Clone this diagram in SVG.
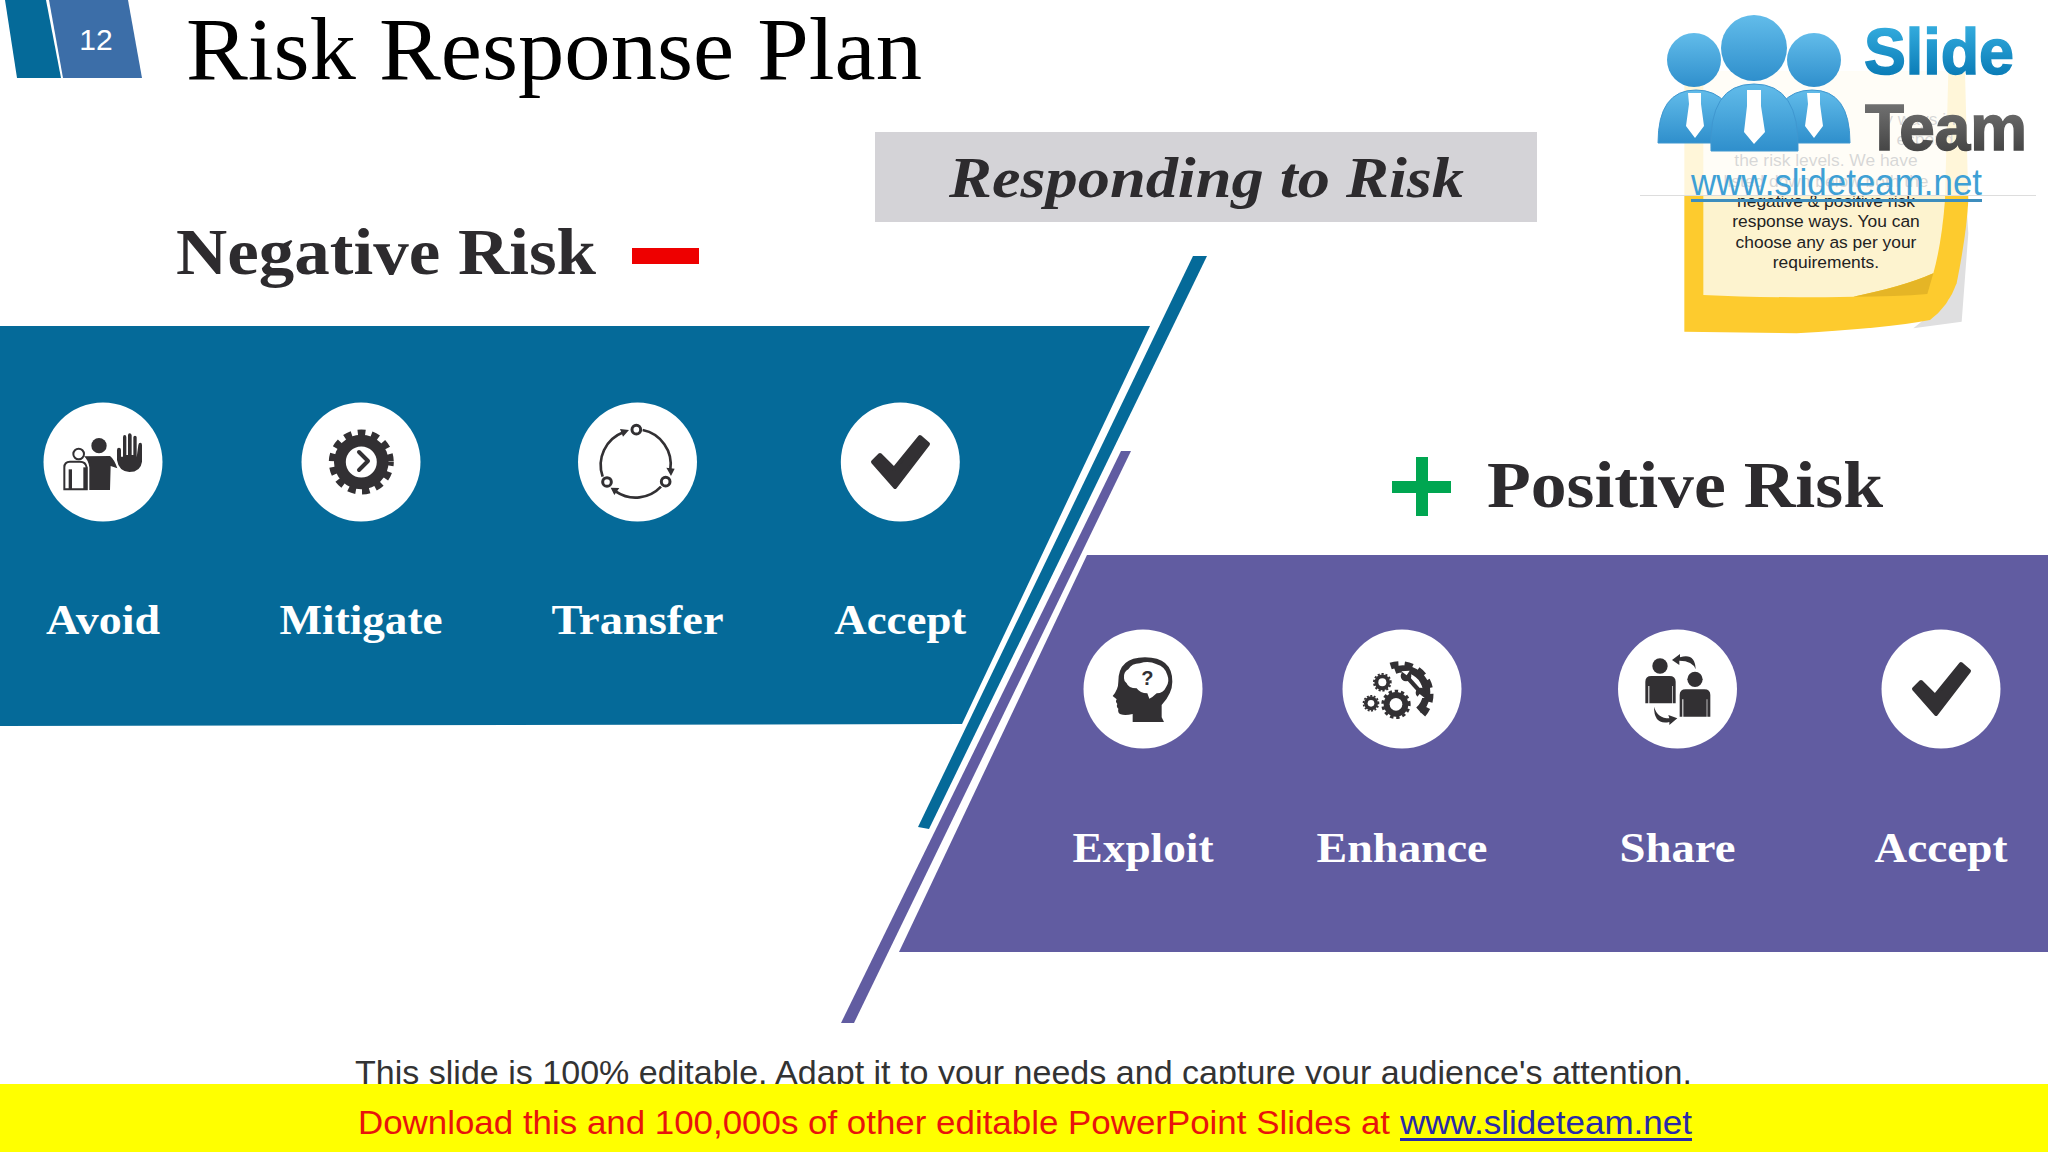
<svg xmlns="http://www.w3.org/2000/svg" width="2048" height="1152" viewBox="0 0 2048 1152">
<style>
.h{font-family:"Liberation Serif",Georgia,serif;font-weight:700;fill:#2d2b2e}
.l{font-family:"Liberation Serif",serif;font-weight:700;fill:#fff;font-size:43px;text-anchor:middle}
.s{font-family:"Liberation Sans",Arial,sans-serif;font-size:17.4px;fill:#222;text-anchor:middle}
.c{fill:#fff}
.i{fill:#323033}
.o{fill:none;stroke:#323033}
</style>
<defs>
<linearGradient id="gs" x1="0" y1="0" x2="0" y2="1"><stop offset="0" stop-color="#3cb6e6"/><stop offset="1" stop-color="#0070ad"/></linearGradient>
<linearGradient id="gt" x1="0" y1="0" x2="0" y2="1"><stop offset="0" stop-color="#7c7c7c"/><stop offset="1" stop-color="#3a3a3a"/></linearGradient>
<linearGradient id="gp" x1="0" y1="0" x2="0" y2="1"><stop offset="0" stop-color="#62bcea"/><stop offset="1" stop-color="#2f8fcc"/></linearGradient>
<path id="check" d="M-27 0-20-7-6 7 20-25 28-18-5 25Z" fill="#323033" stroke="#323033" stroke-width="4" stroke-linejoin="round"/>
<g id="gear"><circle r=".84" fill="#323033"/><circle r=".9" fill="none" stroke="#323033" stroke-width=".2" pathLength="12" stroke-dasharray=".55 .45" stroke-dashoffset=".275"/></g>
</defs>
<rect width="2048" height="1152" fill="#fff"/>

<g id="header">
<path d="M5 0H46L61 78H17Z" fill="#056a99"/>
<path d="M49 0H128L142 78H63Z" fill="#3c6ea8"/>
<text x="96" y="50" font-family="Liberation Sans,sans-serif" font-size="30" fill="#fff" text-anchor="middle">12</text>
<text x="186" y="79" font-family="Liberation Serif,serif" font-size="89" fill="#000" textLength="736" lengthAdjust="spacingAndGlyphs">Risk Response Plan</text>
</g>

<g id="responding">
<rect x="875" y="132" width="662" height="90" fill="#d4d3d7"/>
<text x="949" y="197" class="h" font-style="italic" font-size="56" textLength="515" lengthAdjust="spacingAndGlyphs">Responding to Risk</text>
</g>

<g id="negative-heading">
<text x="176" y="274" class="h" font-size="65" textLength="420" lengthAdjust="spacingAndGlyphs">Negative Risk</text>
<rect x="632" y="248" width="67" height="16" fill="#ee0000"/>
</g>
<g id="positive-heading">
<path d="M1416 457H1428V481H1451V493H1428V516H1416V493H1392V481H1416Z" fill="#00a651"/>
<text x="1487" y="507" class="h" font-size="65" textLength="396" lengthAdjust="spacingAndGlyphs">Positive Risk</text>
</g>

<g id="bands">
<path d="M0 326H1150L962 724 0 726Z" fill="#056a99"/>
<path d="M1087 555H2048V952H899Z" fill="#615ca1"/>
</g>
<g id="connectors">
<path d="M1193 256H1207L929 829 918 827Z" fill="#056a99"/>
<path d="M1121 451H1131L854 1023H841Z" fill="#615ca1"/>
</g>

<g id="avoid">
<circle class="c" cx="103" cy="462" r="59.5"/>
<g transform="translate(20 380) scale(.33333)">
<circle class="i" cx="237" cy="197" r="23"/>
<path class="i" d="M192 229 270 228Q283 238 292 265L272 258 270 330H208V262Q205 240 192 229Z"/>
<path d="M133 328V262Q133 245 150 245H180Q197 245 200 262V328Z" fill="#fff" stroke="#323033" stroke-width="6"/>
<rect class="i" x="146" y="268" width="10" height="60"/>
<rect class="i" x="190" y="262" width="12" height="68"/>
<circle cx="176" cy="222" r="16" fill="#fff" stroke="#323033" stroke-width="6"/>
<path class="i" d="M291 210Q291 203 297 203T303 210V230H309V172Q309 165 314 165T319 172V225H324V166Q324 160 329 160T335 166V225H340V172Q340 167 345 167T350 172V232L355 195Q356 188 361 188T366 195V245Q362 276 328 276 296 274 291 240Z"/>
</g>
<text class="l" x="103" y="634" textLength="114" lengthAdjust="spacingAndGlyphs">Avoid</text>
</g>

<g id="mitigate">
<circle class="c" cx="361" cy="462" r="59.5"/>
<use href="#gear" transform="translate(361.3 462) scale(32.5)"/>
<circle class="c" cx="361.3" cy="462" r="15.5"/>
<path d="M359 452 368 461 359 470" fill="none" stroke="#323033" stroke-width="4" stroke-linecap="round" stroke-linejoin="round"/>
<text class="l" x="361" y="634" textLength="163" lengthAdjust="spacingAndGlyphs">Mitigate</text>
</g>

<g id="transfer">
<circle class="c" cx="637.5" cy="462" r="59.5"/>
<g transform="translate(560 380) scale(.33333)">
<path class="o" stroke-width="8" d="M248 150A105 105 0 0 1 331 268M303 320A105 105 0 0 1 168 335M128 290A105 105 0 0 1 190 157"/>
<path class="i" d="M207 150 180 147 189 170ZM333 288 319 263 344 266ZM152 323 178 324 163 345Z"/>
<g fill="#fff" stroke="#323033" stroke-width="9"><circle cx="229" cy="149" r="13"/><circle cx="317" cy="305" r="13"/><circle cx="141" cy="306" r="13"/></g>
</g>
<text class="l" x="637.5" y="634" textLength="172" lengthAdjust="spacingAndGlyphs">Transfer</text>
</g>

<g id="accept-neg">
<circle class="c" cx="900.3" cy="462" r="59.5"/>
<use href="#check" x="900" y="462"/>
<text class="l" x="900.3" y="634" textLength="132" lengthAdjust="spacingAndGlyphs">Accept</text>
</g>

<g id="exploit">
<circle class="c" cx="1143" cy="689" r="59.5"/>
<g transform="translate(1060 610) scale(.33333)">
<path class="i" d="M218 336V312Q195 318 182 313 172 308 175 296 168 290 172 282 165 276 170 268L158 258Q175 238 175 215 175 142 255 142 337 142 337 215 337 250 305 285V322L312 336Z"/>
<path fill="#fff" d="M192 205Q190 185 205 178 215 160 240 160 265 150 290 163 315 170 322 195 330 215 318 232 310 250 290 250 278 262 268 266L262 250Q240 250 230 235 205 235 200 220 192 215 192 205Z"/>
<text x="262" y="226" font-family="Liberation Sans,sans-serif" font-weight="700" font-size="60" fill="#323033" text-anchor="middle">?</text>
</g>
<text class="l" x="1143" y="862" textLength="141" lengthAdjust="spacingAndGlyphs">Exploit</text>
</g>

<g id="enhance">
<circle class="c" cx="1402" cy="689" r="59.5"/>
<g transform="translate(1060 610) scale(.33333)">
<path class="o" stroke-width="22" d="M1005 181A71 71 0 0 1 1076 301"/>
<path class="o" stroke-width="20" stroke-dasharray="24 18" d="M992 168A90 90 0 0 1 1081 320"/>
<path class="o" stroke-width="13" d="M1040 200 1085 250"/>
<circle class="i" cx="1038" cy="198" r="16"/><circle class="i" cx="1082" cy="248" r="15"/>
<path fill="#fff" d="M1024 184 1040 196 1049 182ZM1094 264 1079 252 1069 264Z"/>
<use href="#gear" transform="translate(967 217) scale(28)"/><circle class="c" cx="967" cy="217" r="12"/>
<use href="#gear" transform="translate(933 280) scale(25)"/><circle class="c" cx="933" cy="280" r="10"/>
<use href="#gear" transform="translate(1008 283) scale(44)"/><circle class="c" cx="1008" cy="283" r="19"/>
</g>
<text class="l" x="1402" y="862" textLength="171" lengthAdjust="spacingAndGlyphs">Enhance</text>
</g>

<g id="share">
<circle class="c" cx="1677.5" cy="689" r="59.5"/>
<g transform="translate(1580 610) scale(.33333)">
<circle class="i" cx="240" cy="168" r="23"/>
<circle class="i" cx="345" cy="208" r="23"/>
<path class="i" d="M196 280V215Q196 198 214 198H268Q287 198 287 215V280H278V228H276V280H208V228H205V280Z"/>
<path class="i" d="M299 320V255Q299 238 317 238H373Q391 238 391 255V320H382V268H380V320H310V268H307V320Z"/>
<path class="i" d="M347 178Q338 152 298 152L298 165 276 150 300 132V142Q345 128 347 178ZM222 290Q232 325 268 325L265 315 292 325 268 345V336Q222 346 222 290Z"/>
</g>
<text class="l" x="1677.5" y="862" textLength="116" lengthAdjust="spacingAndGlyphs">Share</text>
</g>

<g id="accept-pos">
<circle class="c" cx="1941" cy="689" r="59.5"/>
<use href="#check" x="1941" y="689"/>
<text class="l" x="1941" y="862" textLength="133" lengthAdjust="spacingAndGlyphs">Accept</text>
</g>

<g id="sticky">
<g transform="translate(1620 0) scale(.33333)">
<path d="M1040 620 1045 700 1025 965 880 985 985 900Z" fill="#dfdfe0"/>
<path d="M193 215H1035L1045 600Q1040 700 1010 850 985 920 930 960 800 985 530 1000L193 995Z" fill="#fdcb2e"/>
<path d="M250 215H985L975 600Q965 730 940 820 850 860 700 890 450 895 250 885Z" fill="#fdf3cf"/>
<path d="M940 820 922 882Q830 890 700 890 850 860 940 820Z" fill="#e5b526"/>
</g>
<g class="s">
<text x="1920" y="125">y ways in</text>
<text x="1925" y="145">espond</text>
<text x="1826" y="166">the risk levels. We have</text>
<text x="1826" y="187">listed down below both the</text>
<text x="1826" y="207">negative &amp; positive risk</text>
<text x="1826" y="227">response ways. You can</text>
<text x="1826" y="248">choose any as per your</text>
<text x="1826" y="268">requirements.</text>
</g>
</g>

<g id="logo">
<rect x="1640" y="0" width="396" height="195" fill="#fff" fill-opacity=".82"/>
<rect x="1640" y="195" width="396" height="1" fill="#ddd"/>
<g fill="url(#gp)">
<circle cx="1694" cy="60" r="27"/><circle cx="1814" cy="60" r="27"/><circle cx="1754" cy="48" r="33"/>
<path d="M1658 143Q1658 90 1696 90 1734 90 1740 143Z" stroke="#3f97d0"/>
<path d="M1768 143Q1774 90 1812 90 1850 90 1850 143Z" stroke="#3f97d0"/>
<path d="M1711 151Q1708 84 1754 84 1800 84 1798 151Z" stroke="#3f97d0"/>
</g>
<g fill="#fff">
<path d="M1688 93H1701V104L1704 126 1695 138 1686 126 1689 104Z"/>
<path d="M1747 90H1761V106L1765 132 1754 144 1744 132 1747 106Z"/>
<path d="M1807 93H1820V104L1823 126 1814 138 1805 126 1808 104Z"/>
</g>
<text x="1864" y="74" font-family="Liberation Sans,sans-serif" font-weight="700" font-size="65" fill="url(#gs)" stroke="url(#gs)" stroke-width="1.5" textLength="150" lengthAdjust="spacingAndGlyphs">Slide</text>
<text x="1865" y="150" font-family="Liberation Sans,sans-serif" font-weight="700" font-size="65" fill="url(#gt)" stroke="url(#gt)" stroke-width="1.5" textLength="162" lengthAdjust="spacingAndGlyphs">Team</text>
<text x="1691" y="195" font-family="Liberation Sans,sans-serif" font-size="36" fill="#3ea0d5" textLength="291" lengthAdjust="spacingAndGlyphs">www.slideteam.net</text>
<rect x="1691" y="199" width="291" height="3" fill="#3d8dbd"/>
</g>

<g id="footer">
<text x="355" y="1084" font-family="Liberation Sans,sans-serif" font-size="33" fill="#333" textLength="1337" lengthAdjust="spacingAndGlyphs">This slide is 100% editable. Adapt it to your needs and capture your audience's attention.</text>
<rect y="1084" width="2048" height="68" fill="#ffff00"/>
<text x="358" y="1134" font-family="Liberation Sans,sans-serif" font-size="33" fill="#e8140c" textLength="1032" lengthAdjust="spacingAndGlyphs">Download this and 100,000s of other editable PowerPoint Slides at</text>
<text x="1400" y="1134" font-family="Liberation Sans,sans-serif" font-size="33" fill="#2a2aa8" textLength="292" lengthAdjust="spacingAndGlyphs">www.slideteam.net</text>
<rect x="1400" y="1138" width="292" height="3" fill="#2a2aa8"/>
</g>
</svg>
